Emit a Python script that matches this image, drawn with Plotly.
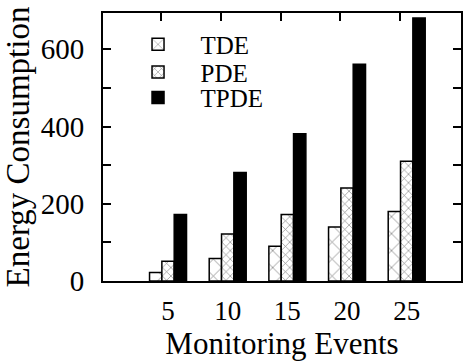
import plotly.graph_objects as go

events = [5, 10, 15, 20, 25]
tde = [22, 58, 90, 140, 180]
pde = [51, 122, 172, 241, 310]
tpde = [172, 281, 381, 561, 681]
series_names = ["TDE", "PDE", "TPDE"]
y_tick_vals = [0, 200, 400, 600]

FONT = "Liberation Serif"

fig = go.Figure()
fig.add_trace(go.Bar(
    x=events, y=tde, name=series_names[0], legend="legend",
    marker=dict(color="white", line=dict(color="black", width=1.5),
                pattern=dict(shape="x", size=12, solidity=0.12, fgcolor="black", bgcolor="white")),
))
fig.add_trace(go.Bar(
    x=events, y=pde, name=series_names[1], legend="legend2",
    marker=dict(color="white", line=dict(color="black", width=1.5),
                pattern=dict(shape="x", size=6, solidity=0.2, fgcolor="black", bgcolor="white")),
))
fig.add_trace(go.Bar(
    x=events, y=tpde, name=series_names[2], legend="legend3",
    marker=dict(color="black", line=dict(color="black", width=1.5)),
))
# invisible helper trace so the top axis (tick marks only) is drawn
fig.add_trace(go.Scatter(x=events, y=tpde, xaxis="x2", yaxis="y", mode="markers",
                         marker=dict(opacity=0), showlegend=False, hoverinfo="skip"))

leg_common = dict(x=0.035, xanchor="left", yanchor="middle",
                  bgcolor="rgba(0,0,0,0)", font=dict(family=FONT, size=25),
                  itemwidth=75)

fig.update_layout(
    width=474, height=361,
    margin=dict(l=103, r=11, t=12, b=77),
    paper_bgcolor="white", plot_bgcolor="white",
    barmode="group", bargap=0.38, bargroupgap=0,
    font=dict(family=FONT, size=26, color="black"),
    showlegend=True,
    legend=dict(y=0.882, **leg_common),
    legend2=dict(y=0.779, **leg_common),
    legend3=dict(y=0.684, **leg_common),
    xaxis=dict(
        range=[-0.45, 29.55], tickmode="array", tickvals=events,
        ticktext=[str(e) for e in events], ticks="",
        showline=True, linecolor="black", linewidth=2, mirror=True,
        showgrid=False, zeroline=False,
        tickfont=dict(family=FONT, size=27), ticklabelstandoff=5,
        title=dict(text="Monitoring Events", font=dict(family=FONT, size=31), standoff=2),
    ),
    xaxis2=dict(
        overlaying="x", side="top", anchor="y", range=[-0.45, 29.55], tickmode="array",
        tickvals=[e - 0.55 for e in events], ticks="inside", ticklen=8,
        tickcolor="black", tickwidth=1.5, showticklabels=False,
        showgrid=False, zeroline=False, showline=False,
    ),
    yaxis=dict(
        range=[0, 694], tickmode="array", tickvals=y_tick_vals,
        ticks="inside", ticklen=8, tickcolor="black", tickwidth=1.5,
        minor=dict(dtick=100, ticks="inside", ticklen=8, tickcolor="black", tickwidth=1.5, showgrid=False),
        showline=True, linecolor="black", linewidth=2, mirror="ticks",
        showgrid=False, zeroline=False,
        tickfont=dict(family=FONT, size=29), ticklabelstandoff=11,
        title=dict(text="Energy Consumption", font=dict(family=FONT, size=33), standoff=4),
    ),
)

fig.write_html("out.html", config={"displayModeBar": False},
               post_script="document.body.style.margin='0';")
